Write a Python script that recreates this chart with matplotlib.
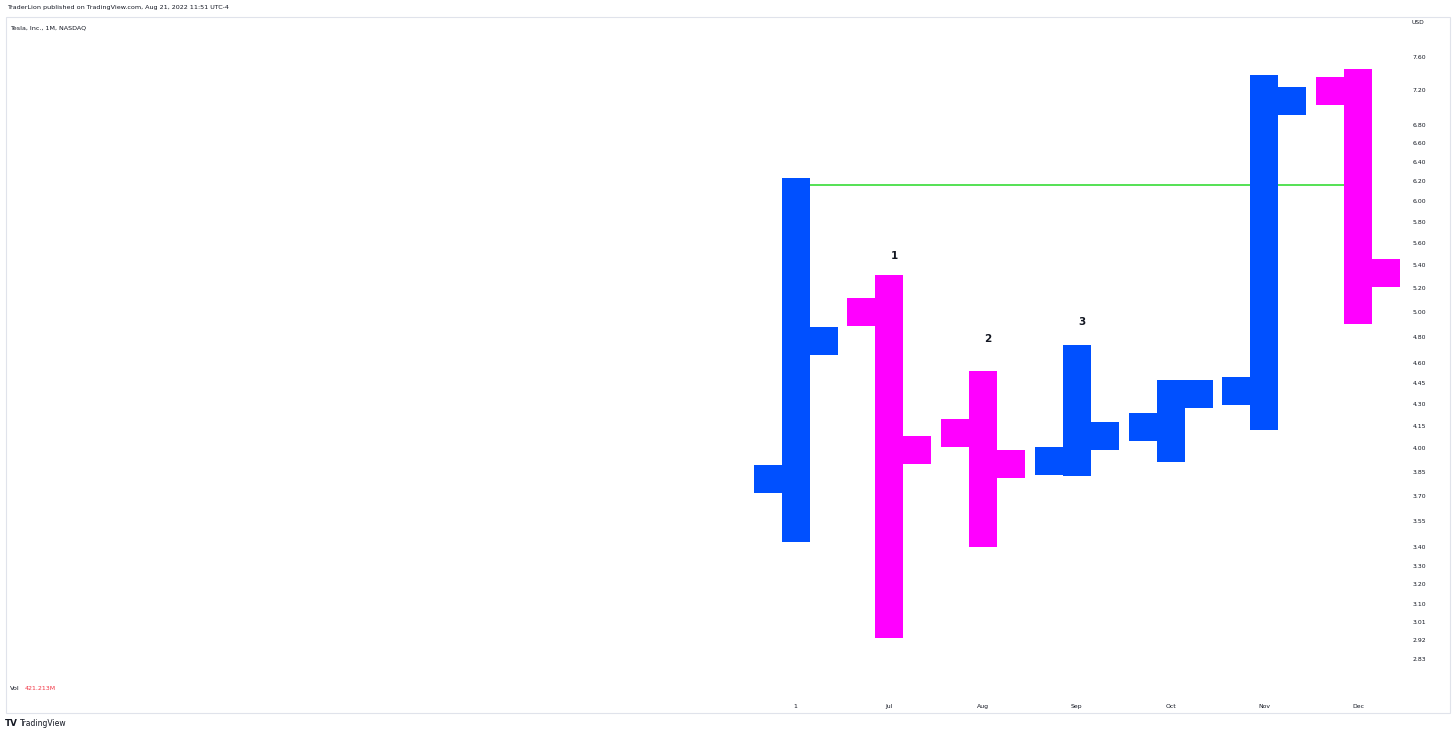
import matplotlib
matplotlib.use("Agg")
import matplotlib.pyplot as plt
from matplotlib.patches import Rectangle
from matplotlib.ticker import FixedLocator, FixedFormatter, NullLocator

# ---------------- data ----------------
months = ['1', 'Jul', 'Aug', 'Sep', 'Oct', 'Nov', 'Dec']
opens = [3.80, 5.00, 4.10, 3.92, 4.14, 4.39, 7.18]
highs = [6.23, 5.31, 4.54, 4.74, 4.47, 7.37, 7.45]
lows = [3.43, 2.93, 3.40, 3.82, 3.91, 4.12, 4.90]
closes = [4.77, 3.99, 3.90, 4.08, 4.37, 7.07, 5.33]

price_ticks = [7.60, 7.20, 6.80, 6.60, 6.40, 6.20, 6.00, 5.80, 5.60, 5.40, 5.20,
               5.00, 4.80, 4.60, 4.45, 4.30, 4.15, 4.00, 3.85, 3.70, 3.55, 3.40,
               3.30, 3.20, 3.10, 3.01, 2.92, 2.83]

level_price = 6.158          # green horizontal line
level_from, level_to = 0, 6  # bar indices

ann_labels = ['1', '2', '3']
ann_bars = [1, 2, 3]
ann_prices = [5.48, 4.785, 4.92]

vol_text = '421.213M'

# ---------------- style ----------------
W, H = 1456, 735
UP = '#0050ff'
DOWN = '#ff00ff'
GREEN = '#26d926'
TXT = '#131722'

fig = plt.figure(figsize=(W / 100, H / 100), dpi=100)
fig.patch.set_facecolor('white')

# chart frame
fig.patches.append(Rectangle((6 / W, 1 - 713 / H), (1450 - 6) / W, (713 - 17) / H,
                             transform=fig.transFigure, fill=False,
                             edgecolor='#e0e3eb', linewidth=0.8))

left_px, right_px, top_px, bot_px = 6, 1402, 17, 695
ax = fig.add_axes([left_px / W, 1 - bot_px / H,
                   (right_px - left_px) / W, (bot_px - top_px) / H])
ax.set_facecolor('none')
for s in ax.spines.values():
    s.set_visible(False)

ax.set_yscale('log')
ax.set_ylim(2.669, 8.111)
ax.set_xlim(-8.421, 6.469)

px_per_unit = 93.75
bar_px = 28
bw = bar_px / px_per_unit          # bar width in x units
lw_pt = bar_px * 72 / 100          # line width in points

for i in range(len(months)):
    col = UP if closes[i] >= opens[i] else DOWN
    ax.vlines(i, lows[i], highs[i], colors=col, linewidth=lw_pt,
              capstyle='butt', zorder=3)
    ax.hlines(opens[i], i - 1.5 * bw, i - 0.5 * bw, colors=col,
              linewidth=lw_pt, capstyle='butt', zorder=3)
    ax.hlines(closes[i], i + 0.5 * bw, i + 1.5 * bw, colors=col,
              linewidth=lw_pt, capstyle='butt', zorder=3)

ax.hlines(level_price, level_from, level_to, colors=GREEN, linewidth=1.1, zorder=2)

for lab, b, p in zip(ann_labels, ann_bars, ann_prices):
    ax.text(b + 5 / px_per_unit, p, lab, ha='center', va='center',
            fontsize=7.5, fontweight='bold', color=TXT, zorder=4)

# axes ticks
ax.yaxis.tick_right()
ax.yaxis.set_major_locator(FixedLocator(price_ticks))
ax.yaxis.set_major_formatter(FixedFormatter([f'{v:.2f}' for v in price_ticks]))
ax.yaxis.set_minor_locator(NullLocator())
ax.tick_params(axis='y', length=0, pad=7.5, labelsize=4.4, labelcolor=TXT)

ax.xaxis.set_major_locator(FixedLocator(list(range(len(months)))))
ax.xaxis.set_major_formatter(FixedFormatter(months))
ax.tick_params(axis='x', length=0, pad=6.5, labelsize=4.4, labelcolor=TXT)

# header & annotations text
def ftext(x, y, s, **kw):
    fig.text(x / W, 1 - y / H, s, va='center', ha='left', **kw)

ftext(7, 8, 'TraderLion published on TradingView.com, Aug 21, 2022 11:51 UTC-4',
      fontsize=4.55, color=TXT)
ftext(10, 28, 'Tesla, Inc., 1M, NASDAQ', fontsize=4.6, color=TXT)
ftext(1412, 23, 'USD', fontsize=4.3, color=TXT)
ftext(10, 688, 'Vol', fontsize=4.6, color=TXT)
ftext(25, 688, vol_text, fontsize=4.5, color='#f23645')
ftext(5, 724, 'TV', fontsize=6.3, fontweight='heavy', color=TXT)
ftext(20, 724, 'TradingView', fontsize=5.5, color=TXT)

fig.savefig('out.png', dpi=100, facecolor='white')
